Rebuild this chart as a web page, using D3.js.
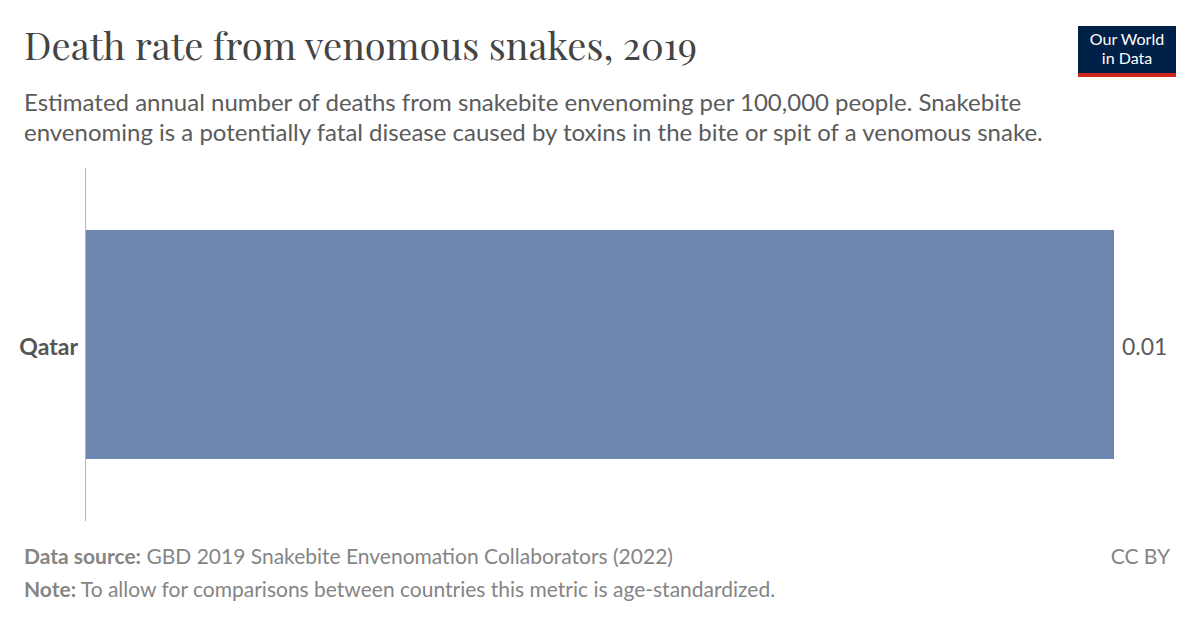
<!DOCTYPE html>
<html>
<head>
<meta charset="utf-8">
<script src="https://cdn.jsdelivr.net/npm/d3@7"></script>
<style>
  body { margin: 0; background: #fff; }
  svg { display: block; font-family: Lato, "Noto Sans", sans-serif; }
</style>
</head>
<body>
<svg id="chart" width="1200" height="627"></svg>
<script>
// chart data
const countries = ['Qatar'];
const deathRates = [0.01];
const valueLabels = ['0.01'];

const width = 1200, height = 627;
const margin = { top: 168, right: 86, bottom: 106, left: 86 };

const svg = d3.select('#chart');

// header
svg.append('text')
  .attr('x', 24).attr('y', 60)
  .attr('font-family', '"Playfair Display", "Liberation Serif", "DejaVu Serif", serif')
  .attr('font-size', 38)
  .attr('fill', '#444')
  .text('Death rate from venomous snakes, 2019');

const subtitle = [
  'Estimated annual number of deaths from snakebite envenoming per 100,000 people. Snakebite',
  'envenoming is a potentially fatal disease caused by toxins in the bite or spit of a venomous snake.'
];
svg.append('text')
  .attr('font-size', 24)
  .attr('fill', '#5b5b5b')
  .selectAll('tspan')
  .data(subtitle)
  .join('tspan')
  .attr('x', 24)
  .attr('y', (d, i) => 111 + i * 30)
  .text(d => d);

// logo
const logo = svg.append('g').attr('transform', 'translate(1078,26)');
logo.append('rect').attr('width', 98).attr('height', 51).attr('fill', '#002147');
logo.append('rect').attr('y', 47).attr('width', 98).attr('height', 4).attr('fill', '#ce261e');
logo.append('text')
  .attr('fill', '#fff').attr('font-size', 16).attr('text-anchor', 'middle')
  .selectAll('tspan')
  .data(['Our World', 'in Data'])
  .join('tspan')
  .attr('x', 49)
  .attr('y', (d, i) => 19 + i * 19)
  .text(d => d);

// scales
const x = d3.scaleLinear()
  .domain([0, d3.max(deathRates)])
  .range([margin.left, width - margin.right]);

const y = d3.scaleBand()
  .domain(countries)
  .range([margin.top, height - margin.bottom])
  .paddingInner(0.213)
  .paddingOuter(0.213);

// axis line
svg.append('line')
  .attr('x1', x(0) - 0.5).attr('x2', x(0) - 0.5)
  .attr('y1', margin.top).attr('y2', height - margin.bottom)
  .attr('stroke', '#b5b5b5').attr('stroke-width', 1);

// bars
svg.append('g')
  .selectAll('rect')
  .data(countries)
  .join('rect')
  .attr('x', x(0))
  .attr('y', d => y(d))
  .attr('width', (d, i) => x(deathRates[i]) - x(0))
  .attr('height', y.bandwidth())
  .attr('fill', '#6d87b0');

// category labels
svg.append('g')
  .selectAll('text')
  .data(countries)
  .join('text')
  .attr('x', x(0) - 8)
  .attr('y', d => y(d) + y.bandwidth() / 2 + 2)
  .attr('dy', '0.35em')
  .attr('text-anchor', 'end')
  .attr('font-size', 23)
  .attr('font-weight', 700)
  .attr('fill', '#555')
  .text(d => d);

// value labels
svg.append('g')
  .selectAll('text')
  .data(countries)
  .join('text')
  .attr('x', (d, i) => x(deathRates[i]) + 8)
  .attr('y', d => y(d) + y.bandwidth() / 2 + 2)
  .attr('dy', '0.35em')
  .attr('font-size', 23)
  .attr('fill', '#5b5b5b')
  .text((d, i) => valueLabels[i]);

// footer
const footer = svg.append('g').attr('font-size', 21).attr('fill', '#858585');
const src = footer.append('text').attr('x', 24).attr('y', 564);
src.append('tspan').attr('font-weight', 700).text('Data source:');
src.append('tspan').text(' GBD 2019 Snakebite Envenomation Collaborators (2022)');
const note = footer.append('text').attr('x', 24).attr('y', 597);
note.append('tspan').attr('font-weight', 700).text('Note:');
note.append('tspan').text(' To allow for comparisons between countries this metric is age-standardized.');
footer.append('text')
  .attr('x', 1170).attr('y', 564)
  .attr('text-anchor', 'end')
  .text('CC BY');
</script>
</body>
</html>
